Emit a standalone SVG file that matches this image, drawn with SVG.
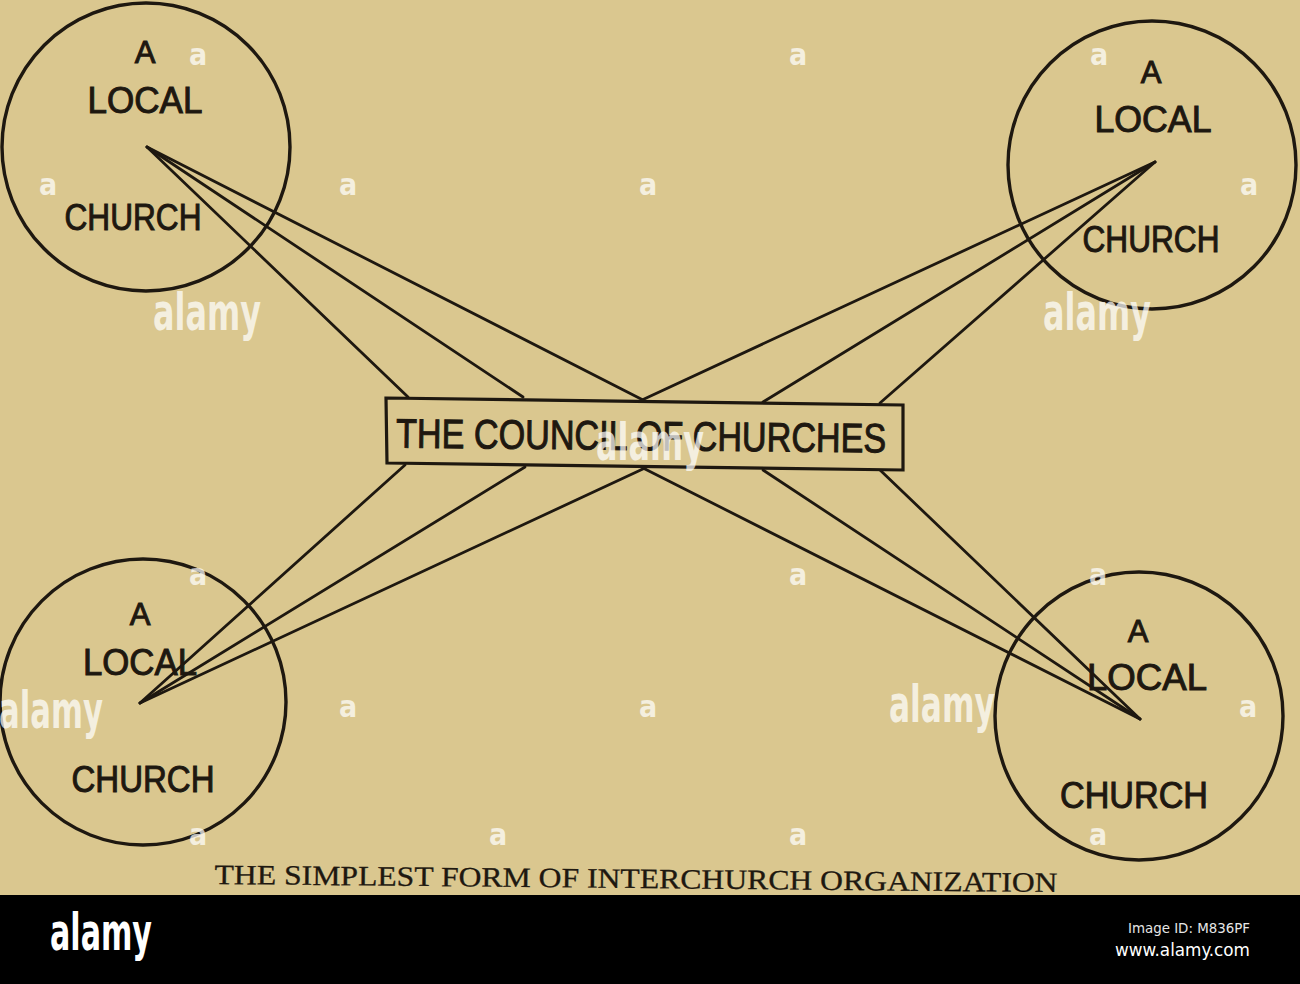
<svg xmlns="http://www.w3.org/2000/svg" width="1300" height="984" viewBox="0 0 1300 984">
<style>
.ring{fill:none;stroke:#1e1810;stroke-width:3.4}
.lbl{font-family:"Liberation Sans","DejaVu Sans",sans-serif;font-size:36px;fill:#1e1810;stroke:#1e1810;stroke-width:1;text-anchor:middle}
.lblA{font-family:"Liberation Sans","DejaVu Sans",sans-serif;font-size:31px;fill:#1e1810;stroke:#1e1810;stroke-width:1;text-anchor:middle}
.conn line{stroke:#1e1810;stroke-width:2.8;stroke-linecap:round}
.wm{font-family:"DejaVu Sans Condensed","DejaVu Sans",sans-serif;font-weight:bold;fill:#ffffff;fill-opacity:0.72;text-anchor:middle}
.wa{font-size:30px}
.wl{font-size:52px}
</style>
<rect x="0" y="0" width="1300" height="895" fill="#dac78f"/>
<g id="connectors" class="conn">
<line x1="147" y1="147" x2="408" y2="397"/>
<line x1="147" y1="147" x2="523" y2="397"/>
<line x1="147" y1="147" x2="643" y2="400"/>
<line x1="1155" y1="162" x2="642" y2="400"/>
<line x1="1155" y1="162" x2="763" y2="402"/>
<line x1="1155" y1="162" x2="880" y2="403"/>
<line x1="140" y1="703" x2="405" y2="465"/>
<line x1="140" y1="703" x2="525" y2="467"/>
<line x1="140" y1="703" x2="645" y2="468"/>
<line x1="1140" y1="719" x2="643" y2="468"/>
<line x1="1140" y1="719" x2="763" y2="470"/>
<line x1="1140" y1="719" x2="880" y2="470"/>
</g>
<g id="church-tl">
<circle class="ring" cx="146" cy="147" r="144"/>
<text class="lblA" x="145" y="63">A</text>
<text class="lbl" x="145" y="113" textLength="115" lengthAdjust="spacingAndGlyphs">LOCAL</text>
<text class="lbl" x="133" y="230" textLength="137" lengthAdjust="spacingAndGlyphs">CHURCH</text>
</g>
<g id="church-tr">
<circle class="ring" cx="1152" cy="165" r="144"/>
<text class="lblA" x="1151" y="83">A</text>
<text class="lbl" x="1153" y="132" textLength="117" lengthAdjust="spacingAndGlyphs">LOCAL</text>
<text class="lbl" x="1151" y="252" textLength="137" lengthAdjust="spacingAndGlyphs">CHURCH</text>
</g>
<g id="church-bl">
<circle class="ring" cx="143" cy="702" r="143"/>
<text class="lblA" x="140" y="625">A</text>
<text class="lbl" x="140" y="675" textLength="114" lengthAdjust="spacingAndGlyphs">LOCAL</text>
<text class="lbl" x="143" y="792" textLength="143" lengthAdjust="spacingAndGlyphs">CHURCH</text>
</g>
<g id="church-br">
<circle class="ring" cx="1139" cy="716" r="144"/>
<text class="lblA" x="1138" y="642">A</text>
<text class="lbl" x="1147" y="690" textLength="120" lengthAdjust="spacingAndGlyphs">LOCAL</text>
<text class="lbl" x="1134" y="808" textLength="148" lengthAdjust="spacingAndGlyphs">CHURCH</text>
</g>
<g id="council">
<polygon points="386,398 903,405 903,470 387,463" fill="#dac78f" stroke="#1e1810" stroke-width="3.2"/>
<text x="641" y="450" transform="rotate(0.6 641 450)" font-family="Liberation Sans, DejaVu Sans, sans-serif" font-size="41" fill="#1e1810" stroke="#1e1810" stroke-width="1" text-anchor="middle" textLength="490" lengthAdjust="spacingAndGlyphs">THE COUNCIL OF CHURCHES</text>
</g>
<text x="636" y="888" transform="rotate(0.55 636 888)" font-family="Liberation Serif, serif" font-size="28" fill="#1e1810" stroke="#1e1810" stroke-width="0.3" text-anchor="middle" textLength="843" lengthAdjust="spacingAndGlyphs">THE SIMPLEST FORM OF INTERCHURCH ORGANIZATION</text>
<g id="watermarks">
<text class="wm wl" x="207" y="330" textLength="108" lengthAdjust="spacingAndGlyphs">alamy</text>
<text class="wm wl" x="1097" y="330" textLength="108" lengthAdjust="spacingAndGlyphs">alamy</text>
<text class="wm wl" x="650" y="460" textLength="108" lengthAdjust="spacingAndGlyphs">alamy</text>
<text class="wm wl" x="51" y="728" textLength="104" lengthAdjust="spacingAndGlyphs">alamy</text>
<text class="wm wl" x="942" y="722" textLength="106" lengthAdjust="spacingAndGlyphs">alamy</text>
<text class="wm wa" x="198" y="65">a</text>
<text class="wm wa" x="798" y="65">a</text>
<text class="wm wa" x="1099" y="65">a</text>
<text class="wm wa" x="48" y="195">a</text>
<text class="wm wa" x="348" y="195">a</text>
<text class="wm wa" x="648" y="195">a</text>
<text class="wm wa" x="1249" y="195">a</text>
<text class="wm wa" x="198" y="585">a</text>
<text class="wm wa" x="798" y="585">a</text>
<text class="wm wa" x="1098" y="585">a</text>
<text class="wm wa" x="348" y="717">a</text>
<text class="wm wa" x="648" y="717">a</text>
<text class="wm wa" x="1248" y="717">a</text>
<text class="wm wa" x="198" y="845">a</text>
<text class="wm wa" x="498" y="845">a</text>
<text class="wm wa" x="798" y="845">a</text>
<text class="wm wa" x="1098" y="845">a</text>
</g>
<g id="footer">
<rect x="0" y="895" width="1300" height="89" fill="#000000"/>
<text x="101" y="950" font-family="DejaVu Sans Condensed, DejaVu Sans, sans-serif" font-weight="bold" font-size="52" fill="#ffffff" text-anchor="middle" textLength="102" lengthAdjust="spacingAndGlyphs">alamy</text>
<text x="1250" y="933" font-family="DejaVu Sans Condensed, DejaVu Sans, sans-serif" font-size="14" fill="#e6e6e6" text-anchor="end" textLength="122" lengthAdjust="spacingAndGlyphs">Image ID: M836PF</text>
<text x="1250" y="956" font-family="DejaVu Sans Condensed, DejaVu Sans, sans-serif" font-size="17" fill="#ffffff" text-anchor="end" textLength="135" lengthAdjust="spacingAndGlyphs">www.alamy.com</text>
</g>
</svg>
